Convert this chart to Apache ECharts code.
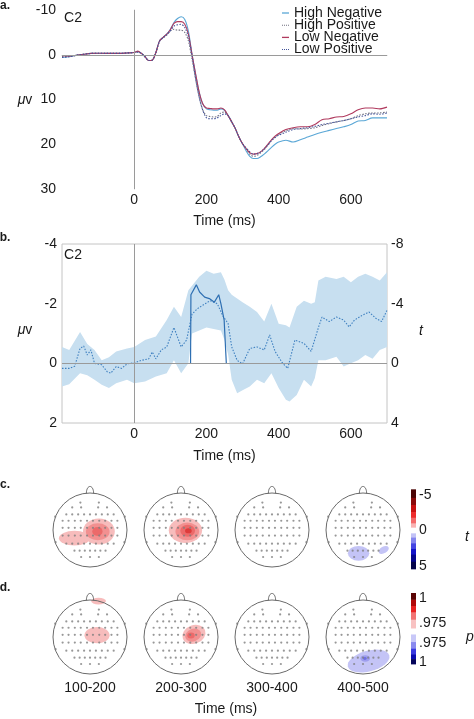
<!DOCTYPE html>
<html>
<head>
<meta charset="utf-8">
<script src="https://cdn.jsdelivr.net/npm/echarts@6/dist/echarts.min.js"></script>
<style>html,body{margin:0;background:#fff}#main{width:474px;height:719px}</style>
</head>
<body>
<div id="main"></div>
<script>
// ---- panel a: ERP at C2 ----
var timeA = [-200,-180,-160,-140,-120,-100,-80,-60,-40,-20,0,10,20,30,40,50,60,70,80,90,100,110,120,130,140,150,160,170,180,190,200,210,220,230,240,250,260,270,280,290,300,310,320,330,340,350,360,370,380,390,400,420,440,460,480,500,520,540,560,580,600,620,640,660,680,700];
var highNeg = [0.6,0.45,0.1,-0.1,-0.3,-0.35,-0.3,-0.3,-0.3,-0.4,-0.5,-0.7,-0.3,0.45,1.3,1.2,-0.5,-3.1,-3.9,-4.6,-5.7,-7.2,-8.1,-8.5,-7.9,-5.3,-0.1,4.3,8.4,11.0,12.1,12.3,12.4,12.4,12.1,12.4,13.6,15.0,16.5,18.4,19.9,21.5,22.7,23.2,23.2,22.8,22.2,21.5,20.7,20.0,19.5,19.1,19.5,19.0,18.4,17.8,17.3,16.9,16.5,16.1,15.6,14.8,14.7,14.1,14.1,14.1];
var highPos = [0.4,0.4,0.1,-0.1,-0.3,-0.35,-0.3,-0.3,-0.3,-0.4,-0.5,-0.6,-0.3,0.45,1.3,1.2,-0.5,-3.0,-3.8,-4.4,-5.3,-5.7,-5.5,-5.5,-5.0,-3.1,1.0,5.4,9.5,12.4,13.6,13.8,13.9,13.8,13.0,12.8,13.6,15.0,16.5,18.4,19.9,21.0,22.2,22.7,22.5,21.9,21.2,20.2,19.1,18.4,17.8,17.0,16.5,16.6,16.5,16.3,15.8,15.4,15.0,14.7,14.3,13.6,13.2,13.0,13.0,12.8];
var lowNeg = [0.2,0.3,0.1,-0.1,-0.3,-0.35,-0.3,-0.3,-0.3,-0.4,-0.5,-0.8,-0.3,0.45,1.3,1.2,-0.5,-3.1,-3.9,-4.6,-5.6,-7.0,-7.4,-7.4,-6.8,-4.6,-0.1,4.3,8.4,11.0,11.9,12.0,12.1,12.1,11.9,12.3,13.6,15.0,16.5,18.4,19.9,21.0,21.9,22.2,22.1,21.7,21.0,20.0,19.0,18.2,17.6,16.7,16.3,16.1,16.1,15.6,14.5,14.3,13.9,13.8,13.2,12.3,11.9,11.9,12.1,11.7];
var lowPos = [0.6,0.45,0.1,-0.1,-0.3,-0.35,-0.3,-0.3,-0.3,-0.4,-0.5,-0.6,-0.3,0.45,1.3,1.2,-0.5,-3.0,-3.8,-4.5,-5.3,-6.4,-6.7,-6.8,-6.1,-4.0,0.2,5.4,9.5,12.4,14.1,14.3,14.3,14.1,13.6,13.2,13.6,15.0,16.5,18.4,19.9,20.8,21.7,22.2,22.1,21.7,21.0,20.2,19.2,18.5,18.0,17.3,16.7,16.5,16.3,16.0,15.6,15.3,15.0,14.7,14.3,13.9,13.6,13.2,13.3,13.0];
var seriesNamesA = ['High Negative','High Positive','Low Negative','Low Positive'];
var timeTicks = [0,200,400,600];

// ---- panel b: difference wave, CI band and t values ----
var timeB = [-200,-180,-165,-150,-140,-130,-120,-110,-90,-75,-65,-50,-35,-20,0,20,40,50,60,75,90,110,130,145,160,175,190,210,230,245,260,270,285,300,320,340,360,375,390,410,425,445,470,490,510,520,540,560,580,595,610,630,650,670,685,700];
var diffMean = [0.17,0.17,0.1,-0.5,-0.58,-0.28,-0.45,0,0.05,0.28,0.33,0.11,0.17,0.02,-0.02,-0.1,-0.15,-0.38,-0.15,-0.45,-0.55,-1.2,-0.55,-0.78,-1.65,-1.83,-1.95,-2.1,-2.0,-1.6,-1.33,-0.55,-0.1,0.02,-0.5,-0.55,-0.45,-0.95,-0.4,-0.02,0.17,-0.78,-0.67,-0.4,-1.2,-1.55,-1.4,-1.55,-1.45,-1.22,-1.45,-1.6,-1.72,-1.5,-1.4,-1.78];
var timeBand = [-200,-180,-150,-130,-110,-90,-70,-50,-20,0,30,60,90,110,130,150,160,180,200,220,240,250,260,270,285,300,320,340,360,380,400,420,430,450,470,490,500,510,530,560,580,600,620,640,660,680,700];
var bandUpper = [-0.55,-0.45,-1.05,-0.65,-0.45,-0.1,-0.2,-0.4,-0.5,-0.55,-0.78,-0.9,-1.45,-1.9,-1.55,-2.45,-2.6,-2.9,-3.1,-3.0,-3.05,-2.8,-2.45,-2.3,-2.17,-2.05,-1.9,-1.72,-1.4,-2.0,-1.33,-1.28,-1.2,-1.9,-2.1,-2.0,-2.05,-2.78,-2.9,-2.83,-2.9,-2.72,-2.9,-3.0,-2.9,-2.78,-3.05];
var bandLower = [0.78,0.7,0.33,0.4,0.55,0.72,0.83,0.67,0.55,0.67,0.61,0.44,0.33,-0.1,0.33,0.0,-1.0,-1.1,-1.2,-1.15,-1.1,-0.78,-0.3,0.55,1.0,0.9,0.78,0.55,0.67,0.33,0.83,1.22,1.28,1.06,0.55,0.78,0.5,-0.1,-0.1,-0.22,0.11,0.0,-0.1,-0.28,-0.15,-0.45,-0.55];
var timeSig = [156,157,172,181,195,208,222,226,234,240,249,254,255];
var tSig = [0,-4.6,-5.26,-4.78,-4.44,-4.34,-4.1,-4.0,-4.6,-4.0,-2.9,-0.5,0];

// ---- panels c/d: topographies ----
var topoLabels = ['100-200','200-300','300-400','400-500'];
var elecRows = [
  [0.74, [-0.26, 0.24]],
  [0.61, [-0.48, -0.24, 0.22, 0.46]],
  [0.42, [-0.64, -0.48, -0.32, -0.16, 0, 0.16, 0.32, 0.48, 0.64]],
  [0.25, [-0.74, -0.58, -0.41, -0.25, -0.08, 0.08, 0.25, 0.41, 0.58, 0.74]],
  [0.06, [-0.74, -0.58, -0.41, -0.25, -0.08, 0.08, 0.25, 0.41, 0.58, 0.74]],
  [-0.15, [-0.74, -0.58, -0.41, -0.25, -0.08, 0.08, 0.25, 0.41, 0.58, 0.74]],
  [-0.37, [-0.64, -0.48, -0.32, -0.16, 0, 0.16, 0.32, 0.48, 0.64]],
  [-0.56, [-0.42, -0.28, -0.14, 0, 0.14, 0.28, 0.42]],
  [-0.73, [-0.24, 0, 0.24]],
  [0.36, [-0.94, 0.94]],
  [-0.33, [-0.93, 0.93]]
];
// blobs: [x, y, rx, ry, rotation deg, level (+ red / - blue)]
var tBlobs = [
  [[-0.42,-0.22,0.42,0.2,0,1],[0.24,-0.04,0.43,0.35,0,1],[0.21,-0.05,0.32,0.23,0,2],[0.2,-0.04,0.14,0.12,0,3]],
  [[0.12,-0.01,0.45,0.34,0,1],[0.17,-0.04,0.32,0.24,0,2],[0.18,-0.02,0.2,0.16,0,3],[0.2,-0.02,0.09,0.07,0,4]],
  [],
  [[-0.12,-0.63,0.29,0.2,0,-1],[0.56,-0.54,0.15,0.09,30,-1]]
];
var pBlobs = [
  [[0.23,0.97,0.2,0.09,0,1],[0.19,0.05,0.34,0.22,0,1]],
  [[0.35,0.07,0.32,0.25,20,1],[0.33,0.05,0.22,0.17,20,2],[0.27,0.04,0.1,0.08,0,3]],
  [],
  [[0.15,-0.65,0.58,0.28,15,-1],[0.06,-0.58,0.13,0.09,0,-2],[0.05,-0.58,0.05,0.04,0,-3]]
];
var redLevels = ['#f7bcbc','#f29090','#ec6a6a','#de3c3c'];
var blueLevels = ['#c4c4f6','#9e9eee','#7070e0'];

// colour bars (edges run a little past the labelled range)
var tBarEdges = [-5.8,-4.6,-3.6,-2.6,-1.8,-1.0,-0.4,0.4,1.0,1.8,2.6,3.4,4.4,5.4];
var tBarColors = ['#4a0505','#8a0a0a','#c81010','#ee2b2b','#f46a6a','#f9b4b4','#ffffff','#c3c3f6','#8585ee','#4545e2','#1414c8','#05058c','#03034a'];
var tBarTicks = [-5,0,5];
var pRedEdges = [-0.2,0.15,0.45,0.7,0.95,1.2];
var pRedColors = ['#f8c2c2','#f27474','#e82020','#b00808','#5a0303'];
var pBlueEdges = [-0.45,-0.05,0.3,0.6,0.85,1.1];
var pBlueColors = ['#c8c8f8','#8a8aef','#3a3ae0','#0c0cb0','#04045a'];
var pTickLabels = ['.975','1'];

var FONT = '"Liberation Sans", Arial, sans-serif';
var AXC = '#c4c4c4';
var TXT = '#1a1a1a';

var chart = echarts.init(document.getElementById('main'));

function pairs(xs, ys) { return xs.map(function (x, i) { return [x, ys[i]]; }); }

function timeLabel(v) { return timeTicks.indexOf(v) >= 0 ? String(v) : ''; }

var grids = [
  {left: 62, top: 10, width: 325, height: 179},
  {left: 62, top: 244, width: 325, height: 179, show: true, borderColor: AXC, borderWidth: 1}
];
var xAxes = [
  {gridIndex: 0, type: 'value', min: -200, max: 700, interval: 200,
    axisLine: {show: true, lineStyle: {color: AXC}}, axisTick: {show: false}, splitLine: {show: false},
    axisLabel: {margin: 4, fontSize: 14, color: TXT, fontFamily: FONT, formatter: timeLabel},
    name: 'Time (ms)', nameLocation: 'middle', nameGap: 25, nameTextStyle: {fontSize: 14, color: TXT, fontFamily: FONT}},
  {gridIndex: 1, type: 'value', min: -200, max: 700, interval: 200,
    axisLine: {show: false}, axisTick: {show: false}, splitLine: {show: false},
    axisLabel: {margin: 4, fontSize: 14, color: TXT, fontFamily: FONT, formatter: timeLabel},
    name: 'Time (ms)', nameLocation: 'middle', nameGap: 26, nameTextStyle: {fontSize: 14, color: TXT, fontFamily: FONT}}
];
var yAxes = [
  {gridIndex: 0, type: 'value', inverse: true, min: -10, max: 30, interval: 10,
    axisLine: {show: true, lineStyle: {color: AXC}}, axisTick: {show: false}, splitLine: {show: false},
    axisLabel: {margin: 6, fontSize: 14, color: TXT, fontFamily: FONT}},
  {gridIndex: 1, type: 'value', inverse: true, min: -4, max: 2, interval: 2, position: 'left',
    axisLine: {show: false}, axisTick: {show: false}, splitLine: {show: false},
    axisLabel: {margin: 5, fontSize: 14, color: TXT, fontFamily: FONT}},
  {gridIndex: 1, type: 'value', inverse: true, min: -8, max: 4, interval: 4, position: 'right',
    axisLine: {show: false}, axisTick: {show: false}, splitLine: {show: false},
    axisLabel: {margin: 4, fontSize: 14, color: TXT, fontFamily: FONT}}
];

var zeroLines = {
  silent: true, symbol: 'none', label: {show: false},
  lineStyle: {color: '#9a9a9a', type: 'solid', width: 1},
  data: [{yAxis: 0}, {xAxis: 0}]
};

function renderBandPoly(params, api) {
  if (params.dataIndexInside !== 0) return null;
  var n = params.dataInsideLength;
  var pts = [];
  for (var j = 0; j < n; j++) pts.push(api.coord([api.value(0, j), api.value(1, j)]));
  for (var j2 = n - 1; j2 >= 0; j2--) pts.push(api.coord([api.value(0, j2), api.value(2, j2)]));
  return {type: 'polygon', shape: {points: pts}, style: {fill: '#c7dff0'}};
}

var series = [
  {name: seriesNamesA[0], type: 'line', xAxisIndex: 0, yAxisIndex: 0, data: pairs(timeA, highNeg), symbol: 'none', smooth: 0.3,
    lineStyle: {color: '#5aa7d6', width: 1.1}, itemStyle: {color: '#5aa7d6'}, markLine: zeroLines, z: 3},
  {name: seriesNamesA[1], type: 'line', xAxisIndex: 0, yAxisIndex: 0, data: pairs(timeA, highPos), symbol: 'none', smooth: 0.3,
    lineStyle: {color: '#707080', width: 1.1, type: [1.5, 1.5]}, itemStyle: {color: '#707080'}, z: 3},
  {name: seriesNamesA[2], type: 'line', xAxisIndex: 0, yAxisIndex: 0, data: pairs(timeA, lowNeg), symbol: 'none', smooth: 0.3,
    lineStyle: {color: '#b03a5e', width: 1.1}, itemStyle: {color: '#b03a5e'}, z: 3},
  {name: seriesNamesA[3], type: 'line', xAxisIndex: 0, yAxisIndex: 0, data: pairs(timeA, lowPos), symbol: 'none', smooth: 0.3,
    lineStyle: {color: '#44549a', width: 1.1, type: [1.5, 1.5]}, itemStyle: {color: '#44549a'}, z: 3},

  {type: 'custom', xAxisIndex: 1, yAxisIndex: 1, encode: {x: 0, y: [1, 2]},
    data: timeBand.map(function (t, i) { return [t, bandUpper[i], bandLower[i]]; }),
    renderItem: renderBandPoly, silent: true, z: 1},
  {type: 'line', xAxisIndex: 1, yAxisIndex: 1, data: [], symbol: 'none', markLine: zeroLines, z: 2},
  {type: 'line', xAxisIndex: 1, yAxisIndex: 1, data: pairs(timeB, diffMean), symbol: 'none',
    lineStyle: {color: '#3f80c0', width: 1.1, type: [1.5, 1.5]}, z: 3},
  {type: 'line', xAxisIndex: 1, yAxisIndex: 2, data: pairs(timeSig, tSig), symbol: 'none',
    lineStyle: {color: '#2e6fb2', width: 1.2}, z: 4}
];

// topographies
var topoCx = [90, 181, 272, 363];
var topoCy = [530, 637];
var headR = 37;
var span = 1.3;
var electrodes = [];
elecRows.forEach(function (row) { row[1].forEach(function (x) { electrodes.push([x, row[0]]); }); });

function renderBlob(params, api) {
  var c = api.coord([api.value(0), api.value(1)]);
  var s = api.size([api.value(2), api.value(3)]);
  var lv = api.value(5);
  var col = lv > 0 ? redLevels[lv - 1] : blueLevels[-lv - 1];
  return {type: 'circle', shape: {cx: 0, cy: 0, r: 1}, x: c[0], y: c[1], scaleX: s[0], scaleY: s[1],
    rotation: api.value(4) * Math.PI / 180, style: {fill: col}};
}
function renderHead(params, api) {
  var c = api.coord([0, 0]);
  var r = api.size([1, 0])[0];
  var a = api.coord([-0.1, 0.99]), b = api.coord([0.1, 0.99]);
  var c1 = api.coord([-0.09, 1.24]), c2 = api.coord([0.09, 1.24]);
  return {type: 'group', children: [
    {type: 'circle', shape: {cx: c[0], cy: c[1], r: r}, style: {fill: 'none', stroke: '#6a6a6a', lineWidth: 1}},
    {type: 'bezierCurve', shape: {x1: a[0], y1: a[1], cpx1: c1[0], cpy1: c1[1], cpx2: c2[0], cpy2: c2[1], x2: b[0], y2: b[1]},
      style: {fill: 'none', stroke: '#6a6a6a', lineWidth: 1}}
  ]};
}

for (var row = 0; row < 2; row++) {
  for (var k = 0; k < 4; k++) {
    var gi = grids.length;
    grids.push({left: topoCx[k] - headR * span, top: topoCy[row] - headR * span, width: 2 * headR * span, height: 2 * headR * span});
    xAxes.push({gridIndex: gi, type: 'value', min: -span, max: span, show: false});
    yAxes.push({gridIndex: gi, type: 'value', min: -span, max: span, show: false});
    var xi = xAxes.length - 1, yi = yAxes.length - 1;
    var blobs = row === 0 ? tBlobs[k] : pBlobs[k];
    series.push({type: 'custom', xAxisIndex: xi, yAxisIndex: yi, data: blobs, renderItem: renderBlob, silent: true, z: 1, clip: false});
    series.push({type: 'custom', xAxisIndex: xi, yAxisIndex: yi, data: [[0, 0]], renderItem: renderHead, silent: true, z: 2, clip: false});
    series.push({type: 'scatter', xAxisIndex: xi, yAxisIndex: yi, data: electrodes, symbolSize: 2.2,
      itemStyle: {color: '#7e7e7e'}, silent: true, z: 3});
  }
}

// colour bars
function addBar(box, axisOpt, edges, colors) {
  var gi = grids.length;
  grids.push(box);
  xAxes.push({gridIndex: gi, type: 'value', min: 0, max: 1, show: false});
  yAxes.push(Object.assign({gridIndex: gi, type: 'value', position: 'right',
    axisLine: {show: false}, axisTick: {show: false}, splitLine: {show: false}}, axisOpt));
  var data = [];
  for (var i = 0; i < colors.length; i++) data.push([edges[i], edges[i + 1], i]);
  series.push({type: 'custom', xAxisIndex: xAxes.length - 1, yAxisIndex: yAxes.length - 1, data: data, silent: true, clip: false,
    renderItem: function (params, api) {
      var p1 = api.coord([0, api.value(0)]);
      var p2 = api.coord([1, api.value(1)]);
      return {type: 'rect', shape: {x: p1[0], y: Math.min(p1[1], p2[1]), width: p2[0] - p1[0], height: Math.abs(p2[1] - p1[1]) + 0.5},
        style: {fill: colors[api.value(2)]}};
    }});
}
var barLabel = {margin: 3, fontSize: 14, color: TXT, fontFamily: FONT};
addBar({left: 411, top: 495, width: 5, height: 71},
  {inverse: true, min: tBarTicks[0], max: tBarTicks[2], interval: 5, axisLabel: barLabel}, tBarEdges, tBarColors);
addBar({left: 411, top: 598, width: 5, height: 25},
  {min: 0, max: 1, interval: 1, axisLabel: Object.assign({formatter: function (v) { return pTickLabels[v]; }}, barLabel)}, pRedEdges, pRedColors);
addBar({left: 411, top: 643, width: 5, height: 19},
  {inverse: true, min: 0, max: 1, interval: 1, axisLabel: Object.assign({formatter: function (v) { return pTickLabels[v]; }}, barLabel)}, pBlueEdges, pBlueColors);

function txt(x, y, s, extra) {
  return {type: 'text', x: x, y: y, silent: true,
    style: Object.assign({text: s, fontSize: 14, fontFamily: FONT, fill: TXT, align: 'center', verticalAlign: 'middle'}, extra || {})};
}
var muRich = {rich: {i: {fontStyle: 'italic', fontSize: 14, fontFamily: FONT, fill: TXT}}};
var graphics = [
  txt(5, 6, 'a.', {fontWeight: 'bold', fontSize: 12}),
  txt(5, 238, 'b.', {fontWeight: 'bold', fontSize: 12}),
  txt(5, 485, 'c.', {fontWeight: 'bold', fontSize: 12}),
  txt(5, 588, 'd.', {fontWeight: 'bold', fontSize: 12}),
  txt(73, 18, 'C2'),
  txt(73, 255, 'C2'),
  txt(25, 100, '{i|μ}v', muRich),
  txt(25, 330, '{i|μ}v', muRich),
  txt(421, 331, 't', {fontStyle: 'italic'}),
  txt(467, 537, 't', {fontStyle: 'italic'}),
  txt(470, 637, 'p', {fontStyle: 'italic'}),
  txt(226, 709, 'Time (ms)')
];
topoLabels.forEach(function (s, k) { graphics.push(txt(topoCx[k], 688, s)); });

var dotIcon = 'path://M0,0h1v1h-1zM2,0h1v1h-1zM4,0h1v1h-1zM6,0h1v1h-1z';
chart.setOption({
  animation: false,
  textStyle: {fontFamily: FONT},
  legend: {
    data: [
      {name: seriesNamesA[0], icon: 'rect'},
      {name: seriesNamesA[1], icon: dotIcon},
      {name: seriesNamesA[2], icon: 'rect'},
      {name: seriesNamesA[3], icon: dotIcon}
    ],
    orient: 'vertical', left: 282, top: 6, padding: 0, itemGap: -1.8,
    itemWidth: 7, itemHeight: 1.3,
    textStyle: {fontSize: 14, color: TXT, fontFamily: FONT}
  },
  grid: grids,
  xAxis: xAxes,
  yAxis: yAxes,
  series: series,
  graphic: {elements: graphics}
});
</script>
</body>
</html>
